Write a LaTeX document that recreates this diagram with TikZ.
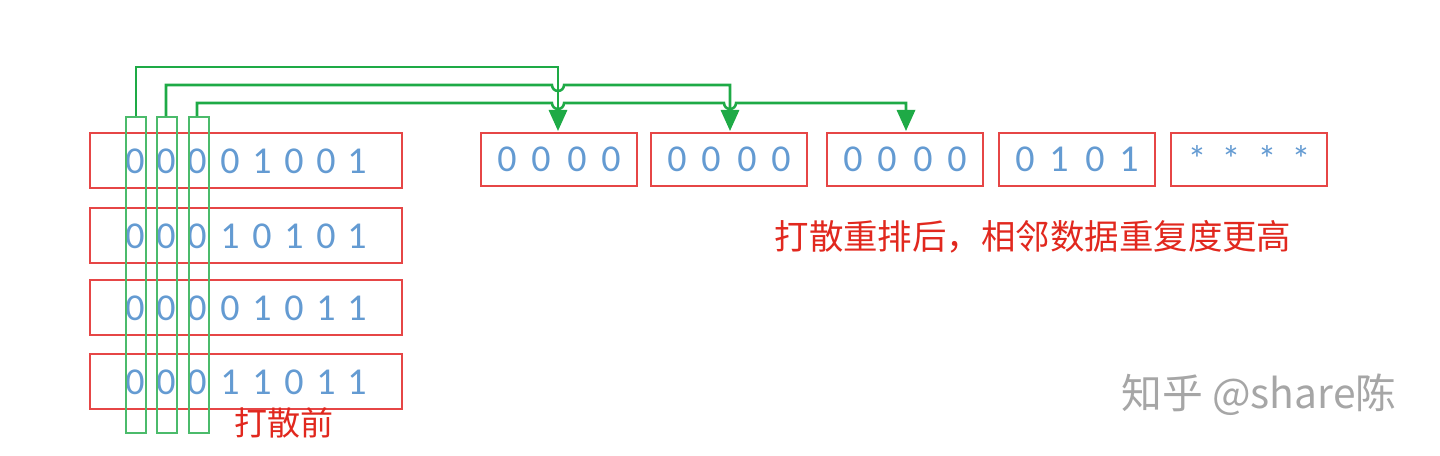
\documentclass[tikz,border=0pt]{standalone}
\usepackage{fontspec}
\setmainfont{Carlito}
\newfontfamily\cjk{Noto Sans CJK SC}
\usetikzlibrary{arrows.meta}
\definecolor{rd}{RGB}{230,70,70}
\definecolor{gr}{RGB}{30,170,70}
\definecolor{bl}{RGB}{100,155,210}
\definecolor{tr}{RGB}{225,40,30}
\tikzset{rowbox/.style={draw=rd,line width=1.2pt},
colbox/.style={draw=gr!80,line width=1.2pt},
dig/.style={text=bl,font=\fontsize{27}{27}\selectfont,inner sep=0pt,anchor=center},
wire/.style={draw=gr,line width=1.8pt},
tip/.style={-{Triangle[length=15pt,width=13pt]}}}
\begin{document}
\begin{tikzpicture}[x=0.025cm,y=-0.025cm]
\useasboundingbox (0,0) rectangle (1440,455);
% left rows
\foreach \y/\bits [count=\i] in {133/{0,0,0,0,1,0,0,1},208/{0,0,0,1,0,1,0,1},280/{0,0,0,0,1,0,1,1},354/{0,0,0,1,1,0,1,1}}{
  \draw[rowbox] (90,\y) rectangle (402,\y+55);
  \foreach \b [count=\j] in \bits {
    \pgfmathsetmacro\xx{{135,166,197,230,262,294,326,357}[\j-1]}
    \node[dig] at (\xx,\y+28) {\b};
  }
}
% columns
\foreach \x [count=\k] in {125,156,188}{
  \node[colbox,minimum width=0.5cm,minimum height=7.9cm,inner sep=0pt,anchor=north west] (c\k) at (\x,116) {};
}
% right boxes
\foreach \x/\t [count=\k] in {481/{0,0,0,0},651/{0,0,0,0},827/{0,0,0,0},999/{0,1,0,1},1171/{*,*,*,*}}{
  \draw[rowbox] (\x,133) rectangle (\x+156,186);
  \coordinate (r\k) at (\x+78,159);
  \foreach \b [count=\j] in \t {
    \pgfmathsetmacro\dx{{-52,-18,18,52}[\j-1]}
    \node[dig] at (\x+78+\dx,159) {\b};
  }
}
% wires
\draw[wire,tip] (136,116) -- (136,67) -- (558,67) -- (558,131);
\draw[wire,tip] (166,116) -- (166,85) -- (552,85) arc (180:0:6) -- (730,85) -- (730,131);
\draw[wire,tip] (197,116) -- (197,103) -- (552,103) arc (180:0:6) -- (724,103) arc (180:0:6) -- (906,103) -- (906,131);
% texts
\node[text=tr,font=\cjk\fontsize{24.5}{24.5}\selectfont] (t1) at (1033,237) {打散重排后，相邻数据重复度更高};
\node[text=tr,font=\cjk\fontsize{23.5}{23.5}\selectfont] (t2) at (284,423) {打散前};
\node[text=black!35,font=\cjk\fontsize{29}{29}\selectfont] (wm) at (1259,395) {知乎 @share陈};
\end{tikzpicture}
\end{document}
